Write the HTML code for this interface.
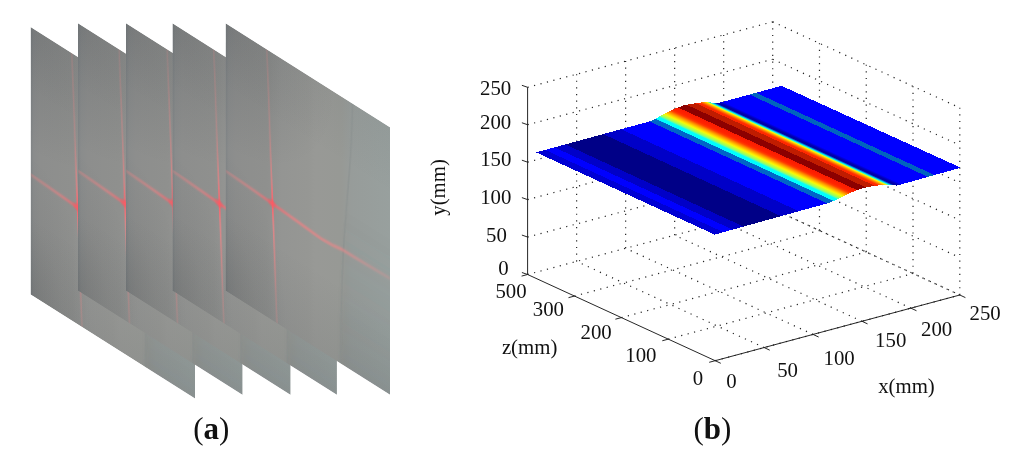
<!DOCTYPE html>
<html><head><meta charset="utf-8"><title>Figure</title>
<style>
html,body{margin:0;padding:0;background:#fff;}
body{width:1024px;height:456px;overflow:hidden;}
svg{display:block;}
text{font-family:"Liberation Serif","Times New Roman",serif;fill:#111;}
</style></head><body>
<svg width="1024" height="456" viewBox="0 0 1024 456">
<rect width="1024" height="456" fill="#fff"/>
<defs>
<linearGradient id="wg" x1="0" y1="0" x2="165" y2="0" gradientUnits="userSpaceOnUse">
<stop offset="0" stop-color="#808486"/>
<stop offset="0.018" stop-color="#8a8c8c"/>
<stop offset="0.06" stop-color="#8d8e8d"/>
<stop offset="0.25" stop-color="#8f908e"/>
<stop offset="0.34" stop-color="#949593"/>
<stop offset="0.50" stop-color="#969794"/>
<stop offset="0.54" stop-color="#989996"/>
<stop offset="0.70" stop-color="#979995"/>
<stop offset="0.76" stop-color="#979c9a"/>
<stop offset="1" stop-color="#98a09e"/>
</linearGradient>
<linearGradient id="wtop" x1="0" y1="0" x2="0" y2="267.5" gradientUnits="userSpaceOnUse">
<stop offset="0" stop-color="#182028" stop-opacity="0.04"/>
<stop offset="0.25" stop-color="#182028" stop-opacity="0"/>
<stop offset="0.7" stop-color="#182028" stop-opacity="0"/>
<stop offset="1" stop-color="#182028" stop-opacity="0.06"/>
</linearGradient>
<radialGradient id="wtl" cx="0" cy="0" r="1" gradientUnits="userSpaceOnUse" gradientTransform="scale(110 125)">
<stop offset="0" stop-color="#101820" stop-opacity="0.13"/>
<stop offset="1" stop-color="#101820" stop-opacity="0"/>
</radialGradient>
<radialGradient id="wbl" cx="0" cy="0" r="1" gradientUnits="userSpaceOnUse" gradientTransform="translate(0 267.5) scale(62 140)">
<stop offset="0" stop-color="#24292a" stop-opacity="0.14"/>
<stop offset="0.5" stop-color="#24292a" stop-opacity="0.05"/>
<stop offset="1" stop-color="#182830" stop-opacity="0"/>
</radialGradient>
<linearGradient id="wbr" x1="0" y1="110" x2="0" y2="267.5" gradientUnits="userSpaceOnUse">
<stop offset="0" stop-color="#5c686a" stop-opacity="0"/>
<stop offset="1" stop-color="#5c686a" stop-opacity="0.13"/>
</linearGradient>
<radialGradient id="glow" cx="46.5" cy="150.6" r="5" gradientUnits="userSpaceOnUse">
<stop offset="0" stop-color="#ff5a64" stop-opacity="0.75"/>
<stop offset="1" stop-color="#ff4a54" stop-opacity="0"/>
</radialGradient>
<linearGradient id="vl" x1="0" y1="0" x2="0" y2="267.5" gradientUnits="userSpaceOnUse">
<stop offset="0" stop-color="#f08486" stop-opacity="0.16"/>
<stop offset="0.3" stop-color="#f88486" stop-opacity="0.3"/>
<stop offset="0.48" stop-color="#ff7c80" stop-opacity="0.6"/>
<stop offset="0.565" stop-color="#ff5c66" stop-opacity="0.95"/>
<stop offset="0.64" stop-color="#ff8084" stop-opacity="0.7"/>
<stop offset="0.8" stop-color="#f88486" stop-opacity="0.5"/>
<stop offset="0.9" stop-color="#f08486" stop-opacity="0.3"/>
<stop offset="1" stop-color="#ec8a8a" stop-opacity="0.22"/>
</linearGradient>
<linearGradient id="hl" x1="0" y1="0" x2="165" y2="0" gradientUnits="userSpaceOnUse">
<stop offset="0" stop-color="#f88486" stop-opacity="0.4"/>
<stop offset="0.18" stop-color="#ff7c80" stop-opacity="0.7"/>
<stop offset="0.28" stop-color="#ff5c66" stop-opacity="0.95"/>
<stop offset="0.4" stop-color="#ff7c80" stop-opacity="0.85"/>
<stop offset="0.7" stop-color="#ff8486" stop-opacity="0.7"/>
<stop offset="0.85" stop-color="#f88c8e" stop-opacity="0.45"/>
<stop offset="1" stop-color="#f09092" stop-opacity="0.3"/>
</linearGradient>
<filter id="b3" x="-20%" y="-20%" width="140%" height="140%"><feGaussianBlur stdDeviation="0.8"/></filter>
<filter id="b1" x="-20%" y="-20%" width="140%" height="140%"><feGaussianBlur stdDeviation="0.6"/></filter>
<filter id="b2" x="-20%" y="-20%" width="140%" height="140%"><feGaussianBlur stdDeviation="2"/></filter>
<clipPath id="wc"><rect x="0" y="0" width="164.4" height="267.5"/></clipPath>
<g id="panel" clip-path="url(#wc)">
<rect x="0" y="0" width="165" height="267.5" fill="url(#wg)"/>
<path d="M127,-5 C126,60 120,110 118,150 C116,190 115,230 115,275 L175,275 L175,-5 Z" fill="url(#wbr)" filter="url(#b2)"/>
<rect x="0" y="0" width="165" height="267.5" fill="url(#wtop)"/>
<rect x="0" y="0" width="165" height="267.5" fill="url(#wtl)"/>
<rect x="0" y="0" width="165" height="267.5" fill="url(#wbl)"/>
<path d="M86,0 L86,267.5" stroke="#8a8f8e" stroke-width="1.2" opacity="0.35" filter="url(#b1)"/>
<path d="M127,0 C126,60 120,110 118,150 C116,190 115,230 115,267.5" stroke="#858c8c" stroke-width="1.4" fill="none" opacity="0.4" filter="url(#b1)"/>
<path d="M41.2,0 L51.4,267.5" stroke="url(#vl)" stroke-width="1.6" fill="none" filter="url(#b1)"/>
<path d="M0,147.5 L46.5,150.6 L75,153 L96,155 L108,154 L116,152.5 L140,152 L165,151" stroke="url(#hl)" stroke-width="2.3" fill="none" filter="url(#b3)"/>
<circle cx="46.5" cy="150.6" r="5" fill="url(#glow)"/>
</g>
<linearGradient id="sg" gradientUnits="userSpaceOnUse" x1="714.60" y1="234.60" x2="783.51" y2="85.23">
<stop offset="0.0000" stop-color="rgb(0,0,212)"/>
<stop offset="0.0359" stop-color="rgb(0,0,212)"/>
<stop offset="0.0359" stop-color="rgb(0,0,255)"/>
<stop offset="0.0736" stop-color="rgb(0,0,255)"/>
<stop offset="0.0736" stop-color="rgb(0,0,200)"/>
<stop offset="0.1179" stop-color="rgb(0,0,200)"/>
<stop offset="0.1179" stop-color="rgb(0,0,135)"/>
<stop offset="0.2711" stop-color="rgb(0,0,135)"/>
<stop offset="0.2711" stop-color="rgb(0,0,200)"/>
<stop offset="0.3435" stop-color="rgb(0,0,200)"/>
<stop offset="0.3435" stop-color="rgb(0,0,255)"/>
<stop offset="0.4590" stop-color="rgb(0,0,255)"/>
<stop offset="0.4590" stop-color="rgb(0,100,200)"/>
<stop offset="0.4881" stop-color="rgb(0,100,200)"/>
<stop offset="0.4894" stop-color="rgb(0,255,255)"/>
<stop offset="0.5064" stop-color="rgb(0,255,255)"/>
<stop offset="0.5125" stop-color="rgb(80,255,180)"/>
<stop offset="0.5204" stop-color="rgb(160,255,90)"/>
<stop offset="0.5307" stop-color="rgb(205,255,45)"/>
<stop offset="0.5368" stop-color="rgb(245,250,10)"/>
<stop offset="0.5435" stop-color="rgb(255,225,0)"/>
<stop offset="0.5544" stop-color="rgb(255,170,0)"/>
<stop offset="0.5617" stop-color="rgb(255,130,0)"/>
<stop offset="0.5733" stop-color="rgb(255,62,0)"/>
<stop offset="0.5836" stop-color="rgb(255,36,0)"/>
<stop offset="0.6085" stop-color="rgb(250,26,0)"/>
<stop offset="0.6085" stop-color="rgb(140,0,0)"/>
<stop offset="0.6456" stop-color="rgb(140,0,0)"/>
<stop offset="0.6456" stop-color="rgb(192,28,0)"/>
<stop offset="0.6772" stop-color="rgb(192,28,0)"/>
<stop offset="0.6772" stop-color="rgb(255,36,0)"/>
<stop offset="0.6888" stop-color="rgb(255,45,0)"/>
<stop offset="0.6960" stop-color="rgb(255,95,0)"/>
<stop offset="0.7021" stop-color="rgb(255,150,0)"/>
<stop offset="0.7112" stop-color="rgb(255,245,0)"/>
<stop offset="0.7155" stop-color="rgb(120,255,130)"/>
<stop offset="0.7198" stop-color="rgb(0,235,255)"/>
<stop offset="0.7258" stop-color="rgb(0,100,205)"/>
<stop offset="0.7307" stop-color="rgb(0,0,170)"/>
<stop offset="0.7392" stop-color="rgb(0,0,170)"/>
<stop offset="0.7550" stop-color="rgb(0,0,255)"/>
<stop offset="0.8620" stop-color="rgb(0,0,255)"/>
<stop offset="0.8620" stop-color="rgb(0,100,190)"/>
<stop offset="0.8888" stop-color="rgb(0,100,190)"/>
<stop offset="0.8888" stop-color="rgb(0,0,255)"/>
<stop offset="1.0000" stop-color="rgb(0,0,255)"/>
</linearGradient>
</defs>
<use href="#panel" transform="matrix(1 0.633 0 1 30.6 27.0)"/>
<use href="#panel" transform="matrix(1 0.633 0 1 78.0 23.3)"/>
<use href="#panel" transform="matrix(1 0.633 0 1 126.0 23.3)"/>
<use href="#panel" transform="matrix(1 0.633 0 1 172.5 23.3)"/>
<use href="#panel" transform="matrix(1 0.633 0 1 225.6 23.3)"/>
<g fill="none" stroke="#262626" stroke-width="1.2" stroke-dasharray="1.2 5.45" stroke-linecap="butt">
<path class="g" d="M576.62,261.40 L576.62,74.20"/>
<path class="g" d="M625.64,248.30 L625.64,61.10"/>
<path class="g" d="M674.66,235.20 L674.66,48.00"/>
<path class="g" d="M723.68,222.10 L723.68,34.90"/>
<path class="g" d="M772.70,209.00 L772.70,21.80"/>
<path class="g" d="M527.60,274.50 L772.70,209.00"/>
<path class="g" d="M527.60,237.06 L772.70,171.56"/>
<path class="g" d="M527.60,199.62 L772.70,134.12"/>
<path class="g" d="M527.60,162.18 L772.70,96.68"/>
<path class="g" d="M527.60,124.74 L772.70,59.24"/>
<path class="g" d="M527.60,87.30 L772.70,21.80"/>
<path class="g" d="M819.48,230.50 L819.48,43.30"/>
<path class="g" d="M866.25,252.00 L866.25,64.80"/>
<path class="g" d="M913.02,273.50 L913.02,86.30"/>
<path class="g" d="M959.80,295.00 L959.80,107.80"/>
<path class="g" d="M772.70,209.00 L959.80,295.00"/>
<path class="g" d="M772.70,171.56 L959.80,257.56"/>
<path class="g" d="M772.70,134.12 L959.80,220.12"/>
<path class="g" d="M772.70,96.68 L959.80,182.68"/>
<path class="g" d="M772.70,59.24 L959.80,145.24"/>
<path class="g" d="M772.70,21.80 L959.80,107.80"/>
<path class="g" d="M574.50,296.05 L819.48,230.50"/>
<path class="g" d="M621.40,317.60 L866.25,252.00"/>
<path class="g" d="M668.30,339.15 L913.02,273.50"/>
<path class="g" d="M715.20,360.70 L959.80,295.00"/>
<path class="g" d="M764.12,347.56 L576.62,261.40"/>
<path class="g" d="M813.04,334.42 L625.64,248.30"/>
<path class="g" d="M861.96,321.28 L674.66,235.20"/>
<path class="g" d="M910.88,308.14 L723.68,222.10"/>
<path class="g" d="M959.80,295.00 L772.70,209.00"/>
</g>
<polygon shape-rendering="crispEdges" fill="url(#sg)" points="714.6,234.6 830.0,202.6 839.7,198.1 849.6,193.2 859.5,189.2 869.4,186.8 879.2,185.3 889.1,184.8 893.0,185.0 897.0,185.6 960.7,167.7 781.5,85.8 718.5,103.0 710.6,102.5 704.2,102.2 699.5,102.6 691.6,103.8 683.7,105.4 675.8,108.2 667.9,112.1 660.0,116.1 655.0,119.0 650.0,121.3 536.2,152.4"/>
<g fill="none" stroke="#1a1a1a" stroke-width="0.95">
<path d="M527.6,87.3 L527.6,274.5 L715.2,360.7 L959.8,295.0"/>
<path class="t" d="M527.60,274.50 L521.90,272.50"/>
<path class="t" d="M527.60,237.06 L521.90,235.06"/>
<path class="t" d="M527.60,199.62 L521.90,197.62"/>
<path class="t" d="M527.60,162.18 L521.90,160.18"/>
<path class="t" d="M527.60,124.74 L521.90,122.74"/>
<path class="t" d="M527.60,87.30 L521.90,85.30"/>
<path class="t" d="M527.60,274.50 L521.60,276.10"/>
<path class="t" d="M574.50,296.05 L568.50,297.65"/>
<path class="t" d="M621.40,317.60 L615.40,319.20"/>
<path class="t" d="M668.30,339.15 L662.30,340.75"/>
<path class="t" d="M715.20,360.70 L709.20,362.30"/>
<path class="t" d="M715.20,360.70 L720.80,363.30"/>
<path class="t" d="M764.12,347.56 L769.72,350.16"/>
<path class="t" d="M813.04,334.42 L818.64,337.02"/>
<path class="t" d="M861.96,321.28 L867.56,323.88"/>
<path class="t" d="M910.88,308.14 L916.48,310.74"/>
<path class="t" d="M959.80,295.00 L965.40,297.60"/>
</g>
<g font-size="20.8">
<text x="480.0" y="95.3">250</text>
<text x="480.0" y="129.2">200</text>
<text x="480.2" y="166.3">150</text>
<text x="480.2" y="204.1">100</text>
<text x="486.0" y="241.7">50</text>
<text x="498.3" y="275.1">0</text>
<text x="495.4" y="298.0">500</text>
<text x="532.8" y="316.3">300</text>
<text x="580.5" y="339.3">200</text>
<text x="625.3" y="362.0">100</text>
<text x="692.8" y="384.5">0</text>
<text x="726.3" y="387.5">0</text>
<text x="777.2" y="376.7">50</text>
<text x="823.5" y="365.4">100</text>
<text x="875.1" y="346.8">150</text>
<text x="921.0" y="335.6">200</text>
<text x="969.5" y="319.8">250</text>
<text x="501.9" y="354.2">z(mm)</text>
<text x="878.2" y="392.5">x(mm)</text>
<text transform="translate(444.5,215.7) rotate(-90)">y(mm)</text>
</g>
<g font-size="31">
<text x="193.2" y="438.8">(<tspan font-weight="bold">a</tspan>)</text>
<text x="693.5" y="438.8">(<tspan font-weight="bold">b</tspan>)</text>
</g>
</svg></body></html>
